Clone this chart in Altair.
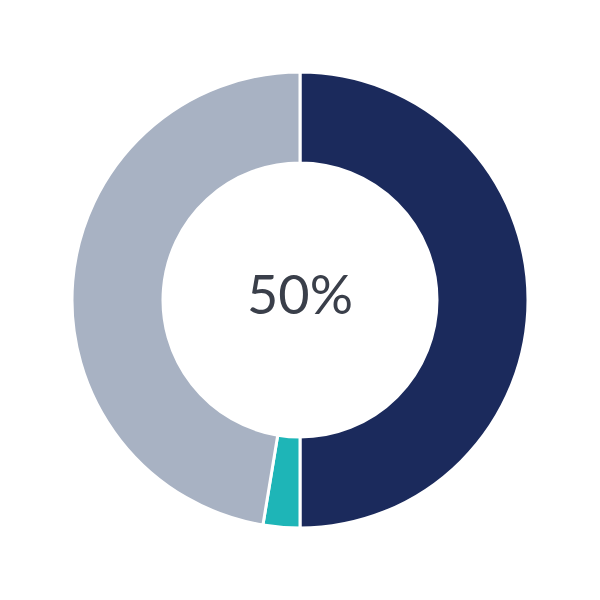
import altair as alt
import pandas as pd

categories = ["A", "B", "C"]
values = [50, 2.6, 47.4]
colors = ["#1b2a5c", "#1eb5b7", "#a8b2c3"]
center_label = "50%"

df = pd.DataFrame({"category": categories, "value": values, "order": [0, 1, 2]})

arc = alt.Chart(df).mark_arc(
    innerRadius=137, outerRadius=228, stroke="white", strokeWidth=3
).encode(
    theta=alt.Theta("value:Q", stack=True),
    order=alt.Order("order:Q"),
    color=alt.Color("category:N", scale=alt.Scale(domain=categories, range=colors), legend=None),
)

text = alt.Chart(pd.DataFrame({"t": [center_label]})).mark_text(
    font="Lato", fontSize=54, color="#3a3f4a", baseline="middle", align="center", dy=-2
).encode(text="t:N")

chart = alt.layer(arc, text).properties(
    width=584, height=584, padding=0
).configure_view(stroke=None)

chart.save("out.html", embed_options={"renderer": "svg", "actions": False})
